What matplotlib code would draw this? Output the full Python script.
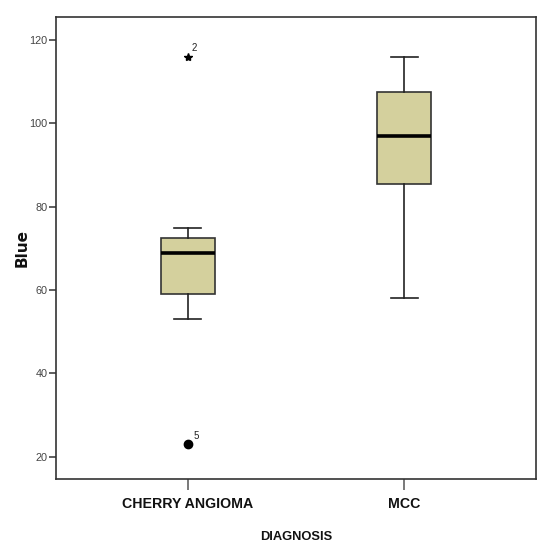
import matplotlib
matplotlib.use("Agg")
import matplotlib.pyplot as plt

# Box plot summary (SPSS style)
categories = ['CHERRY ANGIOMA', 'MCC']
whisker_low = [53, 58]
q1 = [59, 85.5]
median = [69, 97]
q3 = [72.5, 107.5]
whisker_high = [75, 116]

# outliers: (category index, value, case label)
outlier_cat = [0]
outlier_val = [23]
outlier_case = ['5']
extreme_cat = [0]
extreme_val = [116]
extreme_case = ['2']

ytick_vals = [20, 40, 60, 80, 100, 120]

narrow = ['Liberation Sans Narrow', 'Liberation Sans', 'DejaVu Sans']
frame_col = '#333333'

fig = plt.figure(figsize=(5.5, 5.53), dpi=100)
ax = fig.add_axes([0.1013, 0.1333, 0.8733, 0.8365])

positions = [i + 1 for i in range(len(categories))]
stats = []
for i, name in enumerate(categories):
    stats.append({'label': name, 'whislo': whisker_low[i], 'q1': q1[i], 'med': median[i],
                  'q3': q3[i], 'whishi': whisker_high[i], 'fliers': []})

ax.bxp(stats, positions=positions, widths=0.25, showfliers=False, patch_artist=True,
       boxprops=dict(facecolor='#D4D09D', edgecolor=frame_col, linewidth=1.2),
       medianprops=dict(color='black', linewidth=2.6),
       whiskerprops=dict(color='#222222', linewidth=1.2),
       capprops=dict(color='#222222', linewidth=1.2))

for c, v, lab in zip(outlier_cat, outlier_val, outlier_case):
    ax.plot(positions[c], v, 'o', color='black', markersize=6)
    ax.annotate(lab, (positions[c], v), xytext=(4.5, 3.5), textcoords='offset points',
                fontsize=7, family=narrow, color='#222222')
for c, v, lab in zip(extreme_cat, extreme_val, extreme_case):
    ax.plot(positions[c], v, '*', color='black', markersize=6)
    ax.annotate(lab, (positions[c], v), xytext=(3, 4), textcoords='offset points',
                fontsize=7, family=narrow, color='#222222')

ax.set_xlim(0.39, 2.61)
ax.set_ylim(14.6, 125.6)
ax.set_yticks(ytick_vals)
ax.set_yticklabels([str(v) for v in ytick_vals], family=narrow, fontsize=7.8, color='#444444')
ax.set_xticks(positions)
ax.set_xticklabels(categories, family=narrow, fontsize=10.2, fontweight='bold', color='#111111')
ax.tick_params(axis='y', length=5, width=1.1, color=frame_col, pad=1)
ax.tick_params(axis='x', length=8, width=1.1, color='#555555', pad=5)

for s in ax.spines.values():
    s.set_color(frame_col)
    s.set_linewidth(1.2)

ax.set_xlabel('DIAGNOSIS', family=narrow, fontsize=9.3, fontweight='bold', color='#111111', labelpad=14)
fig.text(22 / 550, 1 - 248 / 553, 'Blue', rotation=90, ha='center', va='center',
         family='DejaVu Sans', fontsize=11, fontweight='bold', color='#111111')

fig.savefig('out.png', dpi=100, facecolor='white')
